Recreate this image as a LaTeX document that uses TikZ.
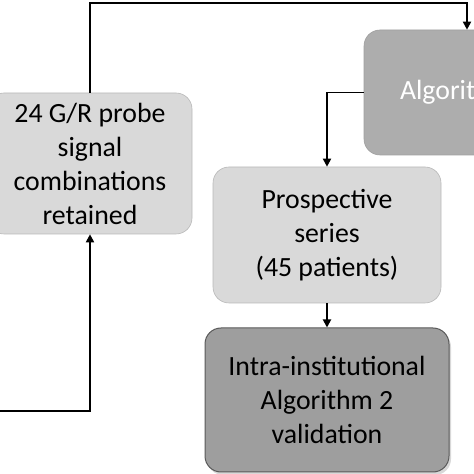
\documentclass[tikz,border=0pt]{standalone}
\usepackage{fontspec}
\setmainfont{Carlito}
\usepackage{tikz}
\usetikzlibrary{arrows.meta,shadows}

\definecolor{lightbox}{HTML}{D9D9D9}
\definecolor{midbox}{HTML}{ADADAD}
\definecolor{darkbox}{HTML}{9E9E9E}

\tikzset{
  box/.style={rounded corners=16pt, align=center, inner sep=0pt,
    font=\fontsize{27.8}{34}\selectfont},
  lightstep/.style={box, fill=lightbox, draw=lightbox!85!black, line width=0.6pt},
  midstep/.style={box, fill=midbox, draw=midbox!92!black, line width=0.6pt, text=white},
  darkstep/.style={box, fill=darkbox, draw=black!65, line width=1pt,
    drop shadow={shadow xshift=2pt, shadow yshift=-3pt, fill=black!30}},
  link/.style={line width=1.8pt, -{Triangle[length=8pt,width=8pt]}}
}

\begin{document}
\begin{tikzpicture}[x=1pt,y=1pt]
    \useasboundingbox (0,0) rectangle (474,474);
    \clip (0,0) rectangle (474,474);
    % Left box with retained combinations
    \node[lightstep, minimum width=204, minimum height=141] (retained) at (90,310.5)
      {24 G/R probe\\signal\\combinations\\retained};
    % Top right box, cut at the edge
    \node[midstep, minimum width=230, minimum height=125, text width=158, align=left] (algo) at (479,381.5)
      {Algorithm};
    % Middle box with the prospective series
    \node[lightstep, minimum width=228, minimum height=136] (series) at (327,239)
      {Prospective\\series\\(45 patients)};
    % Bottom box with the validation
    \node[darkstep, minimum width=244, minimum height=144] (valid) at (327,74)
      {Intra-institutional\\Algorithm 2\\validation};
    % Connectors
    \coordinate (corner) at (467,471);
    \coordinate (entry) at (-10,63);
    \draw[link] (retained.north) |- (corner) -- (corner |- algo.north);
    \draw[link] (algo.west) -| (series.north);
    \draw[link] (series.south) -- (valid.north);
    \draw[link] (entry) -| (retained.south);
\end{tikzpicture}
\end{document}
